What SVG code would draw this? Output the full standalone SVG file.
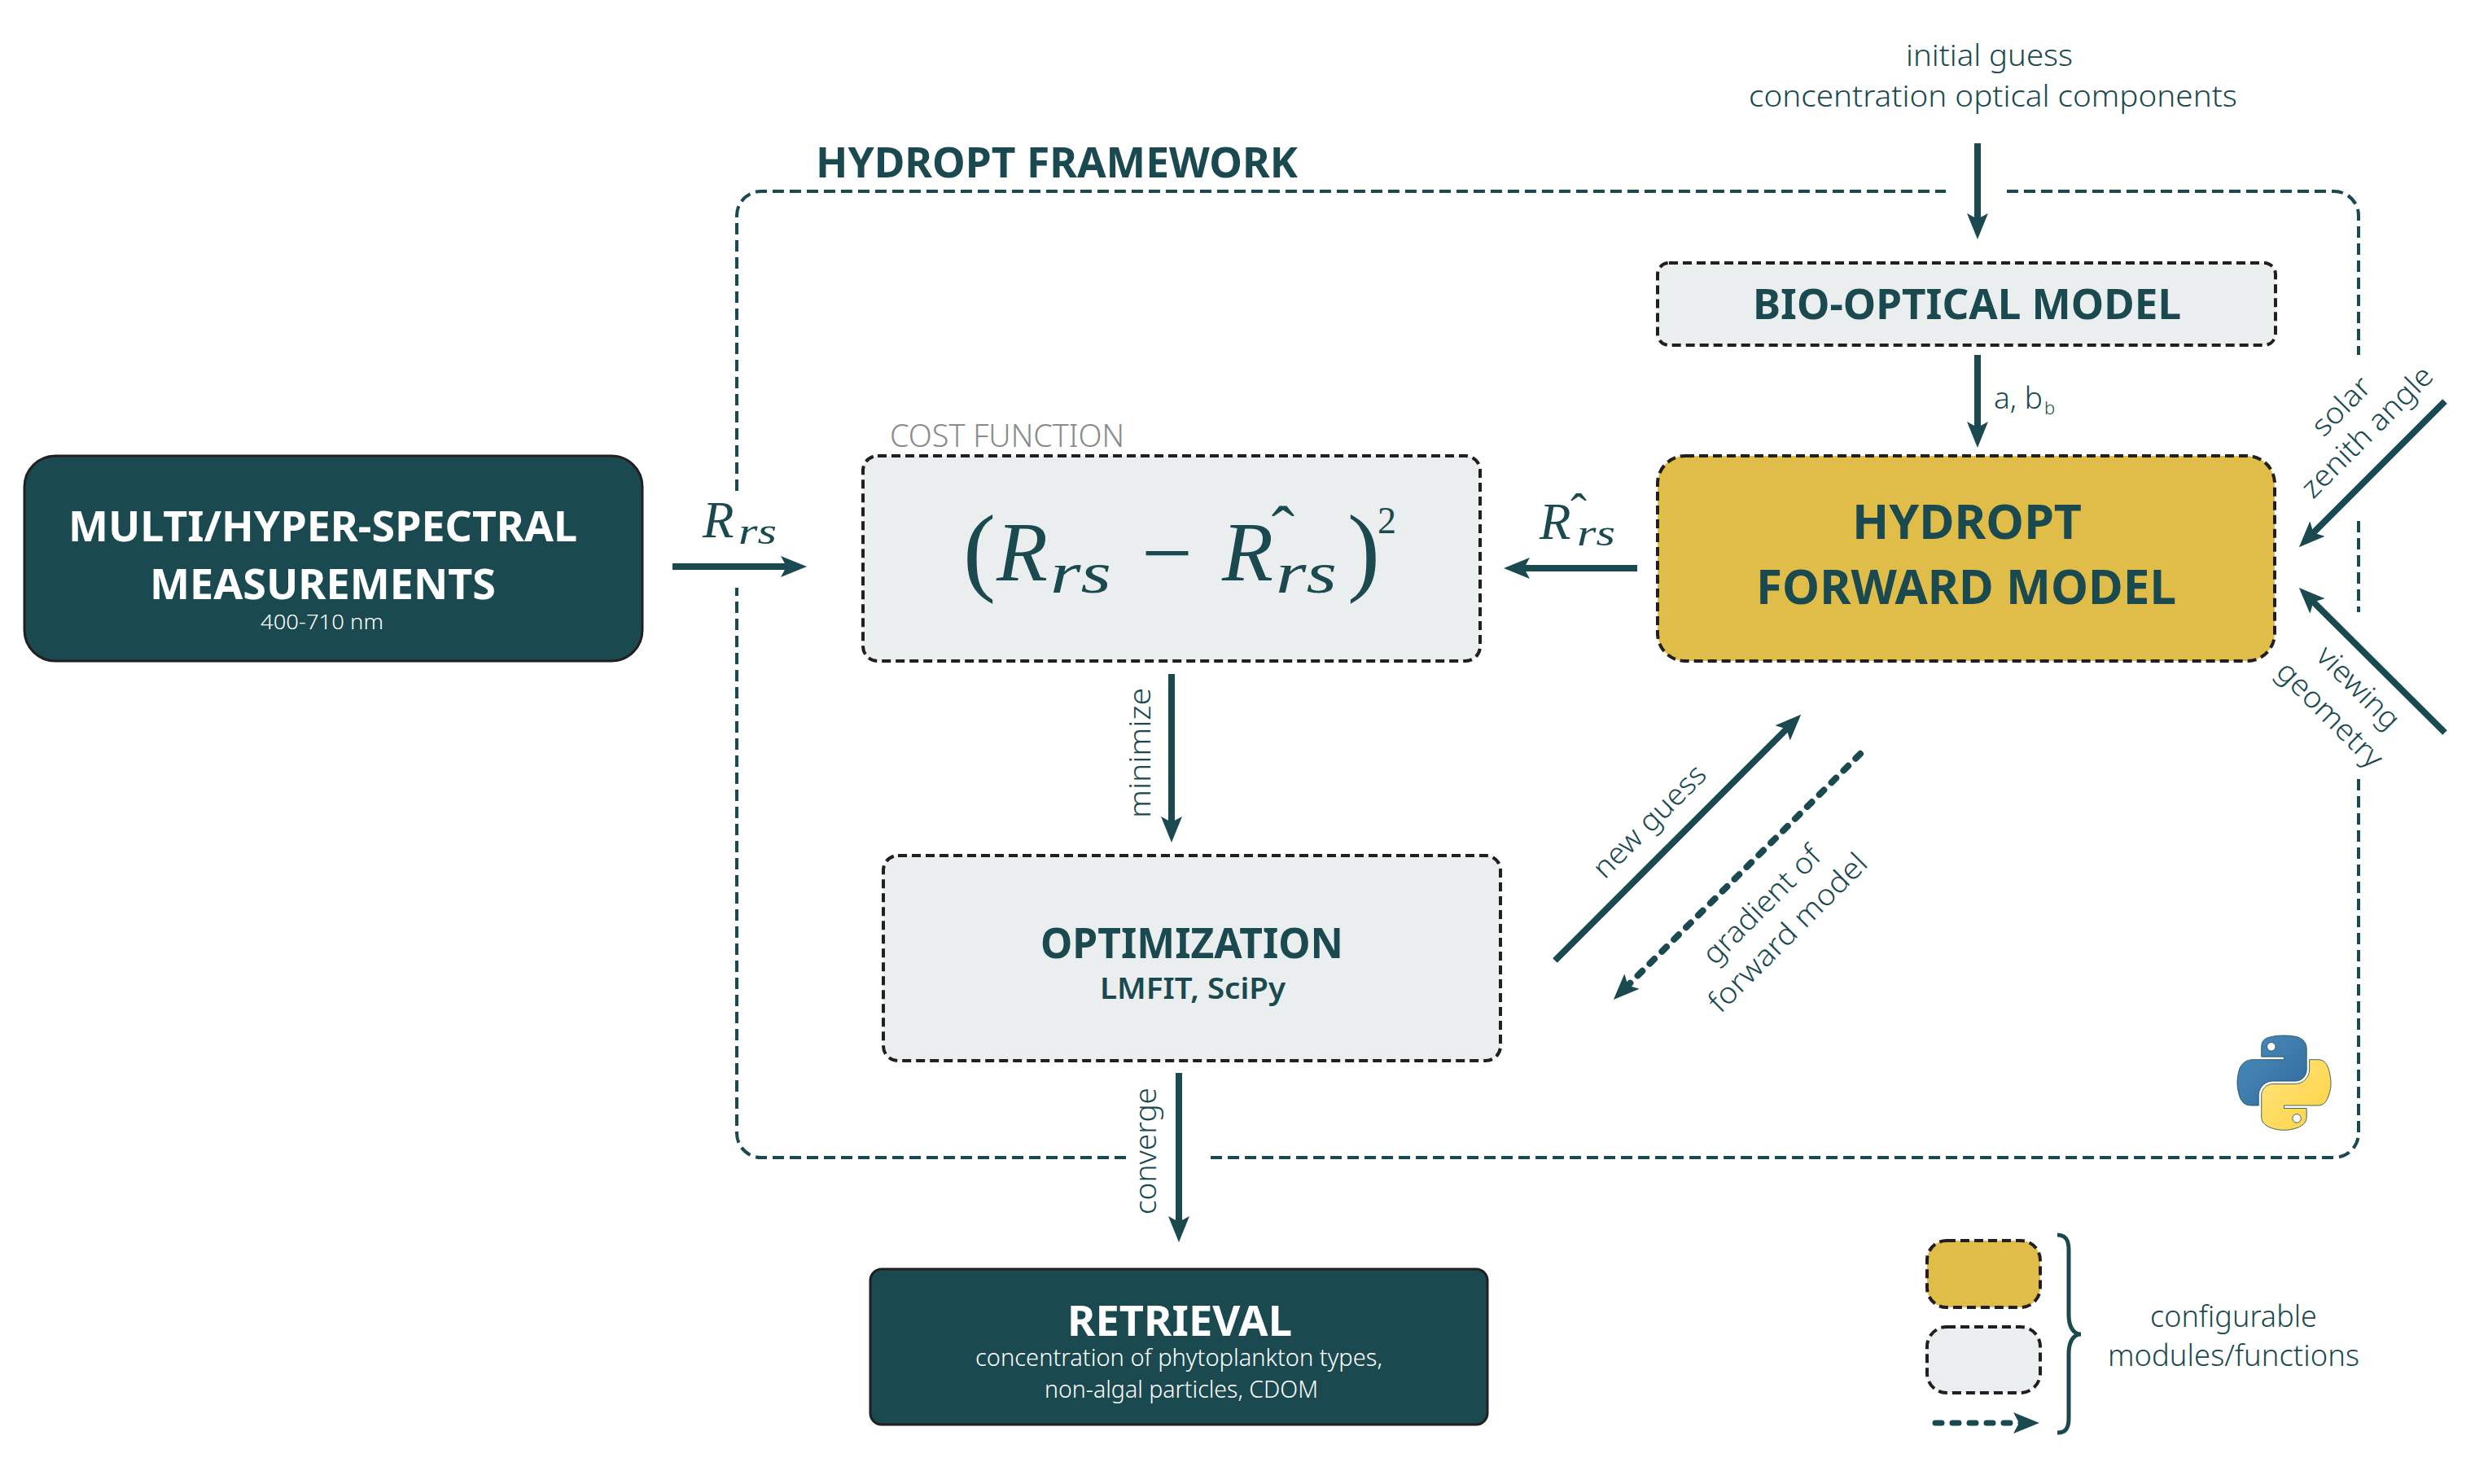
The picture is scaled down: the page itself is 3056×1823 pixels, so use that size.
<svg xmlns="http://www.w3.org/2000/svg" width="3056" height="1823" viewBox="0 0 3056 1823">
<style>
text{font-family:"Noto Sans","Liberation Sans",sans-serif;fill:#1a4a50}
.t{font-weight:700;font-size:52px}
.l{font-weight:300;font-size:36px}
.w{fill:#fff}
.m{font-family:"Liberation Serif",serif;font-style:italic}
.n{font-family:"Liberation Serif",serif}
.box{fill:#ebeeee;stroke:#231f20;stroke-width:4;stroke-dasharray:11 6}
.gold{fill:#e0bc48}
.solid{fill:#1a4a50;stroke:#231f20;stroke-width:3}
.arr{fill:none;stroke:#1a4a50;stroke-width:8;marker-end:url(#head)}
.dash{stroke-linecap:round;stroke-dasharray:8 13}
.frame{fill:none;stroke:#1a4a50;stroke-width:4;stroke-dasharray:14 7}
</style>
<defs>
<marker id="head" markerUnits="userSpaceOnUse" viewBox="0 -14 32 28" refX="12" refY="0" markerWidth="32" markerHeight="28" orient="auto"><path d="M0,-13 L32,0 L0,13 L7,0 Z" fill="#1a4a50"/></marker>
<linearGradient id="py1" x1="0" y1="0" x2="1" y2="1"><stop offset="0" stop-color="#4b8dbd"/><stop offset="1" stop-color="#2f6a9b"/></linearGradient>
<linearGradient id="py2" x1="0" y1="0" x2="1" y2="1"><stop offset="0" stop-color="#ffe580"/><stop offset="1" stop-color="#ffd23f"/></linearGradient>
</defs>

<g id="framework">
<path class="frame" d="M905,603 V265 A30,30 0 0 1 935,235 H2390"/>
<path class="frame" d="M2465,235 H2867 A30,30 0 0 1 2897,265 V436"/>
<path class="frame" d="M2897,640 V752"/>
<path class="frame" d="M2897,957 V1392 A30,30 0 0 1 2867,1422 H1483"/>
<path class="frame" d="M1383,1422 H935 A30,30 0 0 1 905,1392 V722"/>
<text class="t" x="1002" y="218" textLength="592" lengthAdjust="spacingAndGlyphs">HYDROPT FRAMEWORK</text>
</g>

<g id="measurements">
<rect class="solid" x="30" y="560" width="759" height="252" rx="38"/>
<text class="t w" x="84" y="665" textLength="625" lengthAdjust="spacingAndGlyphs">MULTI/HYPER-SPECTRAL</text>
<text class="t w" x="184" y="736" textLength="425" lengthAdjust="spacingAndGlyphs">MEASUREMENTS</text>
<text class="l w" x="320" y="773" style="font-size:26px" textLength="151" lengthAdjust="spacingAndGlyphs">400-710 nm</text>
</g>

<g id="cost-function">
<text class="l" x="1093" y="549" style="font-size:38px;fill:#8a8a8a" textLength="288" lengthAdjust="spacingAndGlyphs">COST FUNCTION</text>
<rect class="box" x="1060" y="560" width="758" height="252" rx="18"/>
<text class="n" x="1183" y="716" font-size="120">(</text>
<text class="m" x="1224" y="713" font-size="103">R</text>
<text class="m" x="1290" y="728" font-size="72" textLength="75" lengthAdjust="spacingAndGlyphs">rs</text>
<text class="n" x="1402" y="714" font-size="103" textLength="63" lengthAdjust="spacingAndGlyphs">−</text>
<text class="m" x="1501" y="713" font-size="103">R</text>
<text class="m" x="1567" y="728" font-size="72" textLength="75" lengthAdjust="spacingAndGlyphs">rs</text>
<text class="n" x="1576" y="680" font-size="85" text-anchor="middle">ˆ</text>
<text class="n" x="1655" y="716" font-size="120">)</text>
<text class="n" x="1692" y="655" font-size="46">2</text>
</g>

<g id="bio-optical-model">
<rect class="box" x="2036" y="323" width="759" height="101" rx="14"/>
<text class="t" x="2153" y="392" textLength="526" lengthAdjust="spacingAndGlyphs">BIO-OPTICAL MODEL</text>
</g>

<g id="forward-model">
<rect class="box gold" x="2036" y="560" width="758" height="252" rx="34"/>
<text class="t" x="2275" y="662" style="font-size:59px" textLength="282" lengthAdjust="spacingAndGlyphs">HYDROPT</text>
<text class="t" x="2157" y="742" style="font-size:59px" textLength="516" lengthAdjust="spacingAndGlyphs">FORWARD MODEL</text>
</g>

<g id="optimization">
<rect class="box" x="1085" y="1051" width="758" height="252" rx="18"/>
<text class="t" x="1278" y="1177" textLength="372" lengthAdjust="spacingAndGlyphs">OPTIMIZATION</text>
<text class="t" x="1351" y="1227" style="font-size:36px;font-weight:600" textLength="228" lengthAdjust="spacingAndGlyphs">LMFIT, SciPy</text>
</g>

<g id="retrieval">
<rect class="solid" x="1069" y="1559" width="758" height="191" rx="14"/>
<text class="t w" x="1311" y="1641" textLength="276" lengthAdjust="spacingAndGlyphs">RETRIEVAL</text>
<text class="l w" x="1198" y="1678" style="font-size:30px" textLength="500" lengthAdjust="spacingAndGlyphs">concentration of phytoplankton types,</text>
<text class="l w" x="1283" y="1717" style="font-size:30px" textLength="336" lengthAdjust="spacingAndGlyphs">non-algal particles, CDOM</text>
</g>

<g id="python-logo" transform="translate(2748,1272) scale(1.035)" stroke="#1a4a50" stroke-width="0.8" fill-rule="evenodd">
<path fill="url(#py1)" d="M54.919,0.001 C50.335,0.022 45.958,0.413 42.106,1.095 C30.760,3.099 28.700,7.295 28.700,15.032 V25.251 H55.513 V28.657 H28.700 H18.637 C10.845,28.657 4.022,33.341 1.888,42.250 C-0.574,52.463 -0.683,58.836 1.888,69.500 C3.794,77.438 8.346,83.094 16.138,83.094 H25.357 V70.844 C25.357,61.994 33.014,54.188 42.106,54.188 H68.888 C76.343,54.188 82.294,48.050 82.294,40.563 V15.032 C82.294,7.766 76.164,2.307 68.888,1.095 C64.282,0.328 59.503,-0.020 54.919,0.001 Z M40.419,8.219 C43.189,8.219 45.451,10.517 45.451,13.344 C45.451,16.160 43.189,18.438 40.419,18.438 C37.640,18.438 35.388,16.160 35.388,13.344 C35.388,10.517 37.640,8.219 40.419,8.219 Z"/>
<path fill="url(#py2)" d="M85.638,28.657 V40.563 C85.638,49.793 77.812,57.563 68.888,57.563 H42.106 C34.770,57.563 28.700,63.841 28.700,71.188 V96.719 C28.700,103.985 35.019,108.259 42.106,110.344 C50.592,112.840 58.731,113.291 68.888,110.344 C75.638,108.389 82.294,104.455 82.294,96.719 V86.500 H55.513 V83.094 H82.294 H95.701 C103.493,83.094 106.397,77.659 109.107,69.500 C111.906,61.100 111.787,53.022 109.107,42.250 C107.181,34.494 103.503,28.657 95.701,28.657 Z M70.638,93.313 C73.417,93.313 75.669,95.591 75.669,98.407 C75.669,101.234 73.417,103.532 70.638,103.532 C67.868,103.532 65.606,101.234 65.606,98.407 C65.606,95.591 67.868,93.313 70.638,93.313 Z"/>
</g>

<g id="legend">
<rect class="box gold" x="2367" y="1524" width="139" height="82" rx="24"/>
<rect class="box" x="2367" y="1630" width="139" height="81" rx="24"/>
<path d="M2527,1517 C2537,1517 2541,1523 2541,1535 V1615 C2541,1630 2547,1639 2556,1639 C2547,1639 2541,1648 2541,1663 V1742 C2541,1755 2537,1760 2527,1760" fill="none" stroke="#1a4a50" stroke-width="5"/>
<text class="l" x="2641" y="1630" textLength="205" lengthAdjust="spacingAndGlyphs">configurable</text>
<text class="l" x="2589" y="1678" textLength="309" lengthAdjust="spacingAndGlyphs">modules/functions</text>
</g>

<g id="connectors">
<path class="arr" d="M2377,1748 H2485" style="stroke-width:7;stroke-linecap:round;stroke-dasharray:8 13"/>
<path class="arr" d="M826,696 H971"/>
<path class="arr" d="M2011,698 H1867"/>
<path class="arr" d="M1439,828 V1015"/>
<path class="arr" d="M1448,1318 V1506"/>
<path class="arr" d="M2429,176 V274"/>
<path class="arr" d="M2429,436 V530"/>
<path class="arr" d="M3003,493 L2838,658"/>
<path class="arr" d="M3003,900 L2838,736"/>
<path class="arr" d="M1910,1180 L2198,892"/>
<path class="arr dash" d="M2285,926 L1996,1214"/>
</g>

<g id="labels">
<text class="l" x="2341" y="81" textLength="205" lengthAdjust="spacingAndGlyphs">initial guess</text>
<text class="l" x="2148" y="131" textLength="600" lengthAdjust="spacingAndGlyphs">concentration optical components</text>
<text class="l" x="2449" y="502" textLength="60" lengthAdjust="spacingAndGlyphs">a, b</text>
<text class="l" x="2511" y="509" style="font-size:22px">b</text>
<text class="m" x="863" y="660" font-size="63">R</text>
<text class="m" x="907" y="668" font-size="46" textLength="47" lengthAdjust="spacingAndGlyphs">rs</text>
<text class="m" x="1891" y="662" font-size="63">R</text>
<text class="m" x="1937" y="670" font-size="46" textLength="47" lengthAdjust="spacingAndGlyphs">rs</text>
<text class="n" x="1939" y="647" font-size="60" text-anchor="middle">ˆ</text>
<text class="l" transform="translate(1413,1005) rotate(-90)" textLength="160" lengthAdjust="spacingAndGlyphs">minimize</text>
<text class="l" transform="translate(1420,1492) rotate(-90)" textLength="156" lengthAdjust="spacingAndGlyphs">converge</text>
<text class="l" transform="translate(1971,1081) rotate(-45)" textLength="180" lengthAdjust="spacingAndGlyphs">new guess</text>
<text class="l" transform="translate(2106,1187) rotate(-45)" textLength="188" lengthAdjust="spacingAndGlyphs">gradient of</text>
<text class="l" transform="translate(2113,1246) rotate(-45)" textLength="259" lengthAdjust="spacingAndGlyphs">forward model</text>
<text class="l" transform="translate(2854,538) rotate(-45)" textLength="86" lengthAdjust="spacingAndGlyphs">solar</text>
<text class="l" transform="translate(2841,614) rotate(-45)" textLength="212" lengthAdjust="spacingAndGlyphs">zenith angle</text>
<text class="l" transform="translate(2843,808) rotate(45)" textLength="128" lengthAdjust="spacingAndGlyphs">viewing</text>
<text class="l" transform="translate(2794,827) rotate(45)" textLength="168" lengthAdjust="spacingAndGlyphs">geometry</text>
</g>
</svg>
